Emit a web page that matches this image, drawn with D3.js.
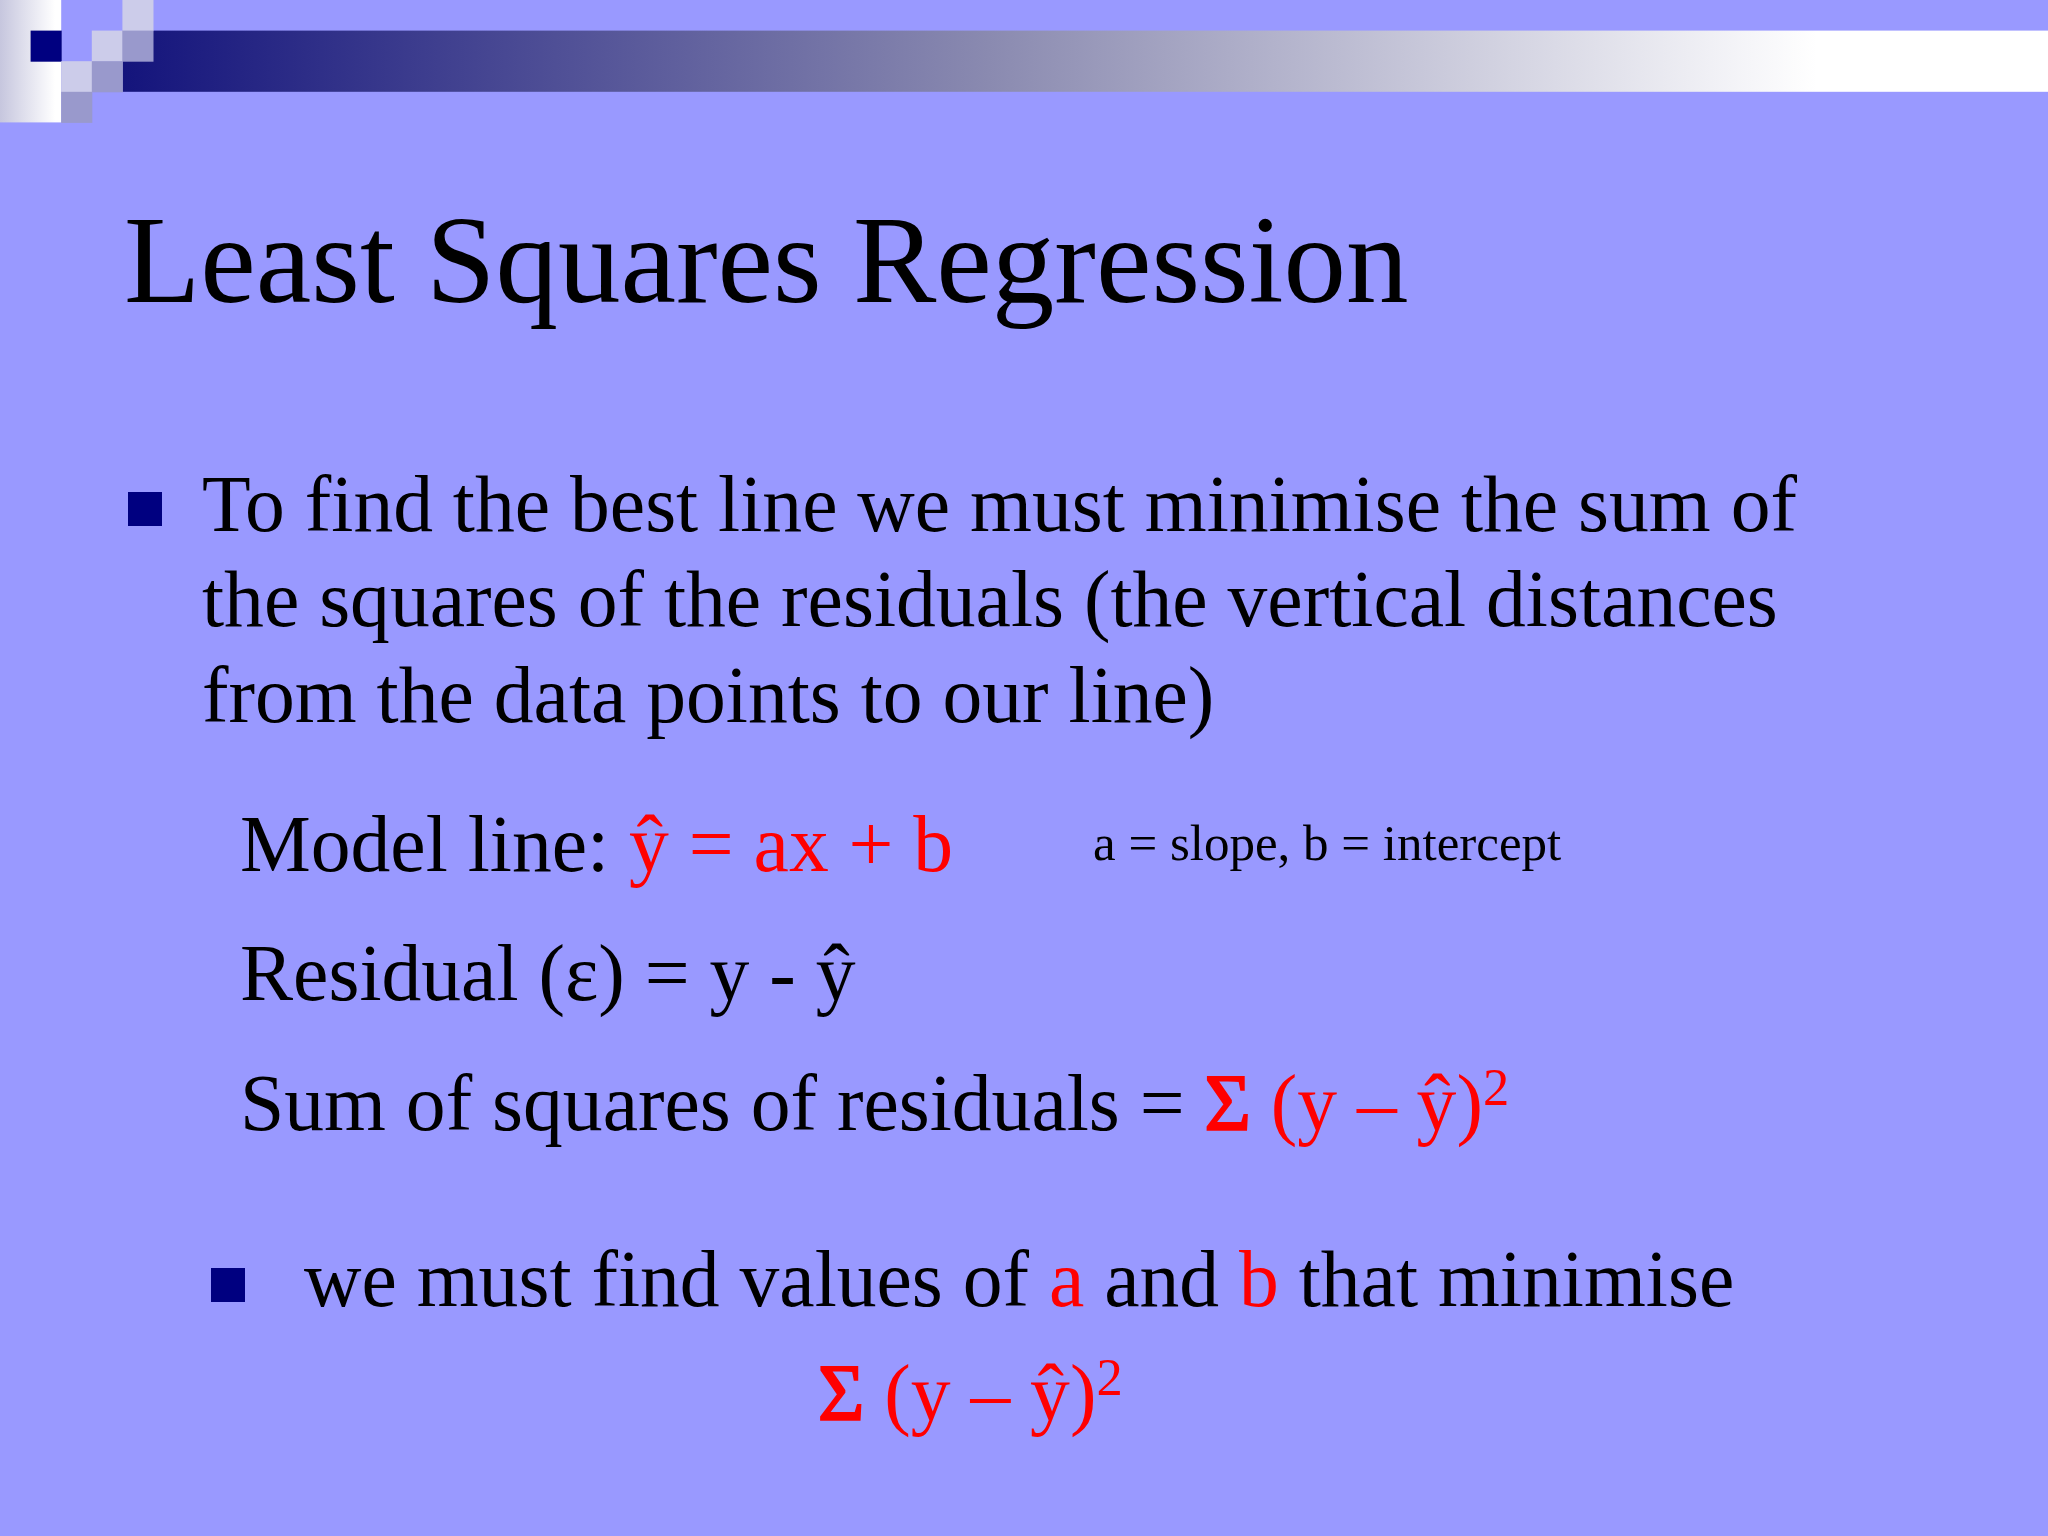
<!DOCTYPE html>
<html>
<head>
<meta charset="utf-8">
<script src="https://cdn.jsdelivr.net/npm/d3@7"></script>
<style>
  html, body { margin: 0; padding: 0; background: #9999ff; }
  svg { display: block; }
</style>
</head>
<body>
<div id="slide"></div>
<script>
// Slide content
let titleText = "Least Squares Regression"
let bullet1Lines = [
  "To find the best line we must minimise the sum of",
  "the squares of the residuals (the vertical distances",
  "from the data points to our line)"
]
// each formula line is a list of [text, colour key, special?]
let modelLine = [["Model line: ", "k"], ["ŷ = ax + b", "r"]]
let modelNote = "a = slope, b = intercept"
let residualLine = [["Residual (ε) = y - ŷ", "k"]]
let sumLine = [["Sum of squares of residuals = ", "k"], ["Σ", "r", "sigma"], [" (y – ŷ)", "r"], ["2", "r", "sup"]]
let bullet2Line = [["we must find values of ", "k"], ["a", "r"], [" and ", "k"], ["b", "r"], [" that minimise", "k"]]
let sigmaLine = [["Σ", "r", "sigma"], [" (y – ŷ)", "r"], ["2", "r", "sup"]]

// Corner decoration: grid cells [col, row, shade]
let cornerCells = [
  [1, 1, "navy"],
  [4, 0, "light"], [3, 1, "light"], [2, 2, "light"],
  [4, 1, "mid"], [3, 2, "mid"], [2, 3, "mid"]
]

const W = 2048, H = 1536
const colours = { k: "#000000", r: "#ff0000" }
const shades = { navy: "#000080", light: "#ccccea", mid: "#9999cc" }

let svg = d3.select('#slide')
  .append('svg')
  .attr('width', W)
  .attr('height', H)
  .style('font-family', '"Liberation Serif", "Times New Roman", serif')

svg.append('rect')
  .attr('width', W)
  .attr('height', H)
  .attr('fill', '#9999ff')

let defs = svg.append('defs')

let barGrad = defs.append('linearGradient').attr('id', 'barGrad')
barGrad.append('stop').attr('offset', '0%').attr('stop-color', '#14147c')
barGrad.append('stop').attr('offset', '45%').attr('stop-color', '#8a8ab0')
barGrad.append('stop').attr('offset', '88%').attr('stop-color', '#ffffff')
barGrad.append('stop').attr('offset', '100%').attr('stop-color', '#ffffff')

let blockGrad = defs.append('linearGradient').attr('id', 'blockGrad')
blockGrad.append('stop').attr('offset', '0%').attr('stop-color', '#c6c6de')
blockGrad.append('stop').attr('offset', '90%').attr('stop-color', '#ffffff')

// grid unit for the corner squares
let grid = d3.scaleLinear().domain([0, 1]).range([0, 30.6])

// white block at the very corner
svg.append('rect')
  .attr('x', 0)
  .attr('y', 0)
  .attr('width', grid(2))
  .attr('height', grid(4))
  .attr('fill', 'url(#blockGrad)')

// long gradient bar across the top
svg.append('rect')
  .attr('x', grid(4))
  .attr('y', grid(1))
  .attr('width', W - grid(4))
  .attr('height', grid(2))
  .attr('fill', 'url(#barGrad)')

svg.selectAll('rect.cell')
  .data(cornerCells)
  .join('rect')
  .attr('class', 'cell')
  .attr('x', d => grid(d[0]))
  .attr('y', d => grid(d[1]))
  .attr('width', grid(1) + 0.5)
  .attr('height', grid(1) + 0.5)
  .attr('fill', d => shades[d[2]])

// Title
svg.append('text')
  .attr('x', 124)
  .attr('y', 302)
  .attr('font-size', 125)
  .attr('fill', '#000')
  .text(titleText)

// draw a line made of coloured pieces
function drawPieces(x, y, size, pieces) {
  let t = svg.append('text')
    .attr('x', x)
    .attr('y', y)
    .attr('font-size', size)
    .attr('xml:space', 'preserve')
    .style('white-space', 'pre')
  let raised = false
  pieces.forEach(p => {
    let s = t.append('tspan')
      .attr('fill', colours[p[1]])
      .text(p[0])
    if (p[2] === 'sup') {
      s.attr('font-size', size * 0.66).attr('dy', -size * 0.31)
      raised = true
    } else if (raised) {
      s.attr('dy', size * 0.31)
      raised = false
    }
    // the sigma is a little heavier than the text round it
    if (p[2] === 'sigma') {
      s.attr('stroke', colours[p[1]]).attr('stroke-width', 2)
    }
  })
  return t
}

function bulletSquare(x, y) {
  svg.append('rect')
    .attr('x', x)
    .attr('y', y)
    .attr('width', 34)
    .attr('height', 34)
    .attr('fill', '#000080')
}

// First bullet
bulletSquare(128, 492)
svg.selectAll('text.b1')
  .data(bullet1Lines)
  .join('text')
  .attr('class', 'b1')
  .attr('x', 202)
  .attr('y', (d, i) => 531 + i * 95.4)
  .attr('font-size', 79.6)
  .attr('fill', '#000')
  .text(d => d)

// Formula block
drawPieces(240, 871, 79.6, modelLine)
svg.append('text')
  .attr('x', 1093)
  .attr('y', 860)
  .attr('font-size', 51)
  .attr('fill', '#000')
  .text(modelNote)
drawPieces(240, 1000, 79.6, residualLine)
drawPieces(240, 1130, 79.6, sumLine)

// Second bullet
bulletSquare(211, 1268)
drawPieces(304, 1306, 79.6, bullet2Line)
drawPieces(818, 1420, 79.6, sigmaLine)
</script>
</body>
</html>
